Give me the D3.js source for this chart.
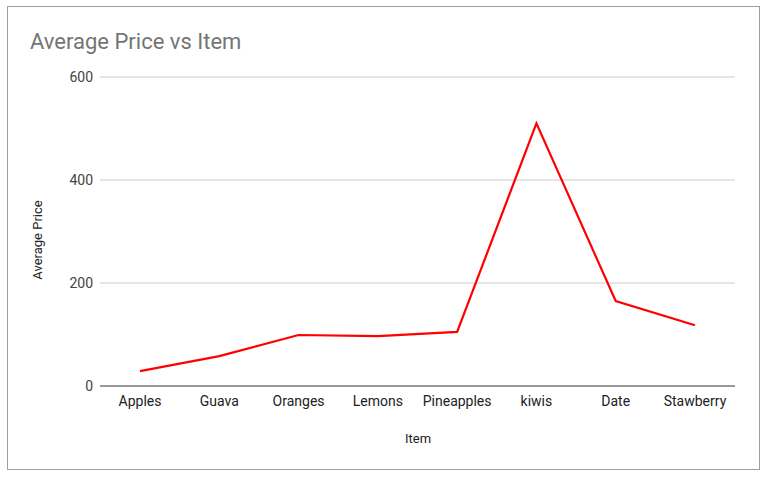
<!DOCTYPE html>
<html><head><meta charset="utf-8">
<script src="https://cdn.jsdelivr.net/npm/d3@7"></script>
<style>body{margin:0;background:#fff;font-family:Roboto,Arial,sans-serif}</style>
</head><body><svg id="c" width="768" height="485"></svg>
<script>
const categories=["Apples","Guava","Oranges","Lemons","Pineapples","kiwis","Date","Stawberry"];
const values=[29,58,99,97,105,510,165,118];
const yTicks=[0,200,400,600];
const svg=d3.select("#c");
svg.append("rect").attr("x",7.5).attr("y",6.5).attr("width",752).attr("height",463).attr("fill","#fff").attr("stroke","#9e9e9e");
svg.append("text").attr("x",30).attr("y",49).attr("font-size",22).attr("fill","#757575").text("Average Price vs Item");
const x=d3.scalePoint().domain(categories).range([140,695]);
const y=d3.scaleLinear().domain([0,600]).range([386,77]);
const g=svg.append("g");
yTicks.forEach(t=>{
 g.append("line").attr("x1",100).attr("x2",735).attr("y1",y(t)).attr("y2",y(t)).attr("stroke",t===0?"#333":"#ccc").attr("stroke-width",1);
 g.append("text").attr("x",93).attr("y",y(t)+5).attr("text-anchor","end").attr("font-size",14).attr("fill","#444").text(t);
});
categories.forEach(c=>g.append("text").attr("x",x(c)).attr("y",406).attr("text-anchor","middle").attr("font-size",14).attr("fill","#222").text(c));
const line=d3.line().x((d,i)=>x(categories[i])).y(d=>y(d));
g.append("path").datum(values).attr("d",line).attr("fill","none").attr("stroke","#ff0000").attr("stroke-width",2.2);
svg.append("text").attr("transform","translate(42,240) rotate(-90)").attr("text-anchor","middle").attr("font-size",13).attr("fill","#222").text("Average Price");
svg.append("text").attr("x",418).attr("y",443).attr("text-anchor","middle").attr("font-size",13).attr("fill","#222").text("Item");
</script></body></html>
